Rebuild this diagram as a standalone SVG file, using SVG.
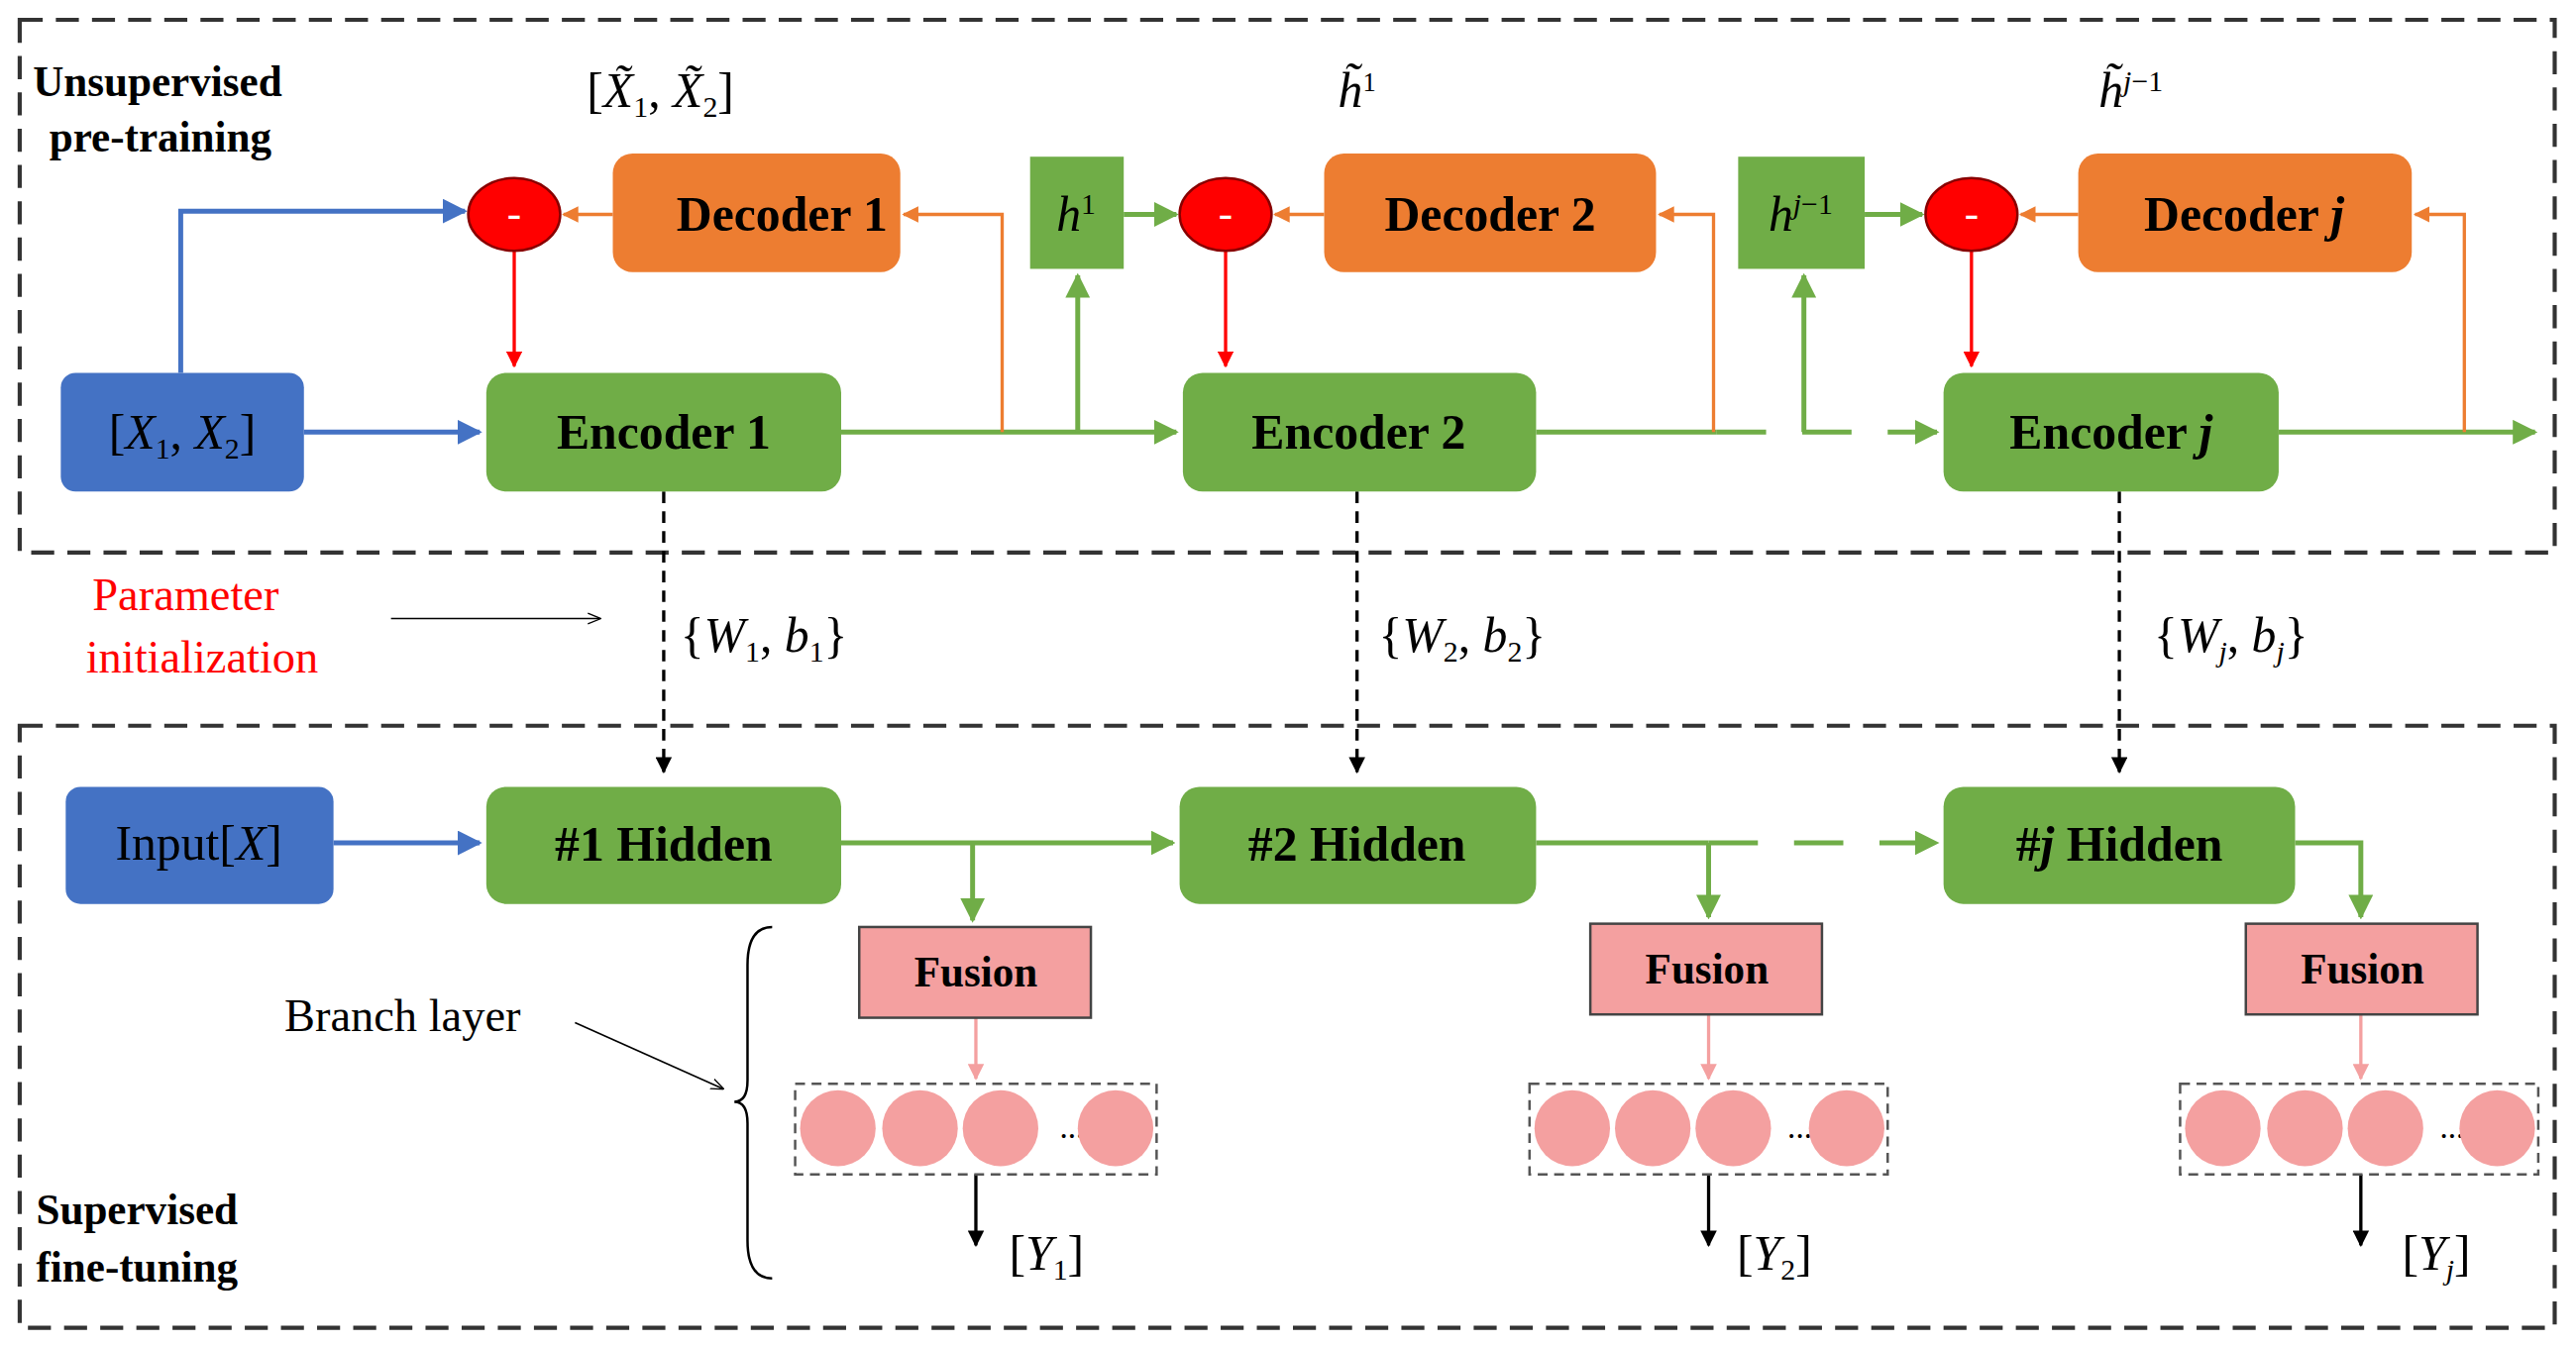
<svg xmlns="http://www.w3.org/2000/svg" width="2600" height="1359" viewBox="0 0 2600 1359">
<defs>
<marker id="ab" viewBox="0 0 10 10" refX="9" refY="5" markerWidth="5" markerHeight="5" orient="auto"><path d="M0,0L10,5L0,10z" fill="#4472c4"/></marker>
<marker id="ag" viewBox="0 0 10 10" refX="9" refY="5" markerWidth="5" markerHeight="5" orient="auto"><path d="M0,0L10,5L0,10z" fill="#70ad47"/></marker>
<marker id="ao" viewBox="0 0 10 10" refX="9" refY="5" markerWidth="5" markerHeight="5" orient="auto"><path d="M0,0L10,5L0,10z" fill="#ed7d31"/></marker>
<marker id="ar" viewBox="0 0 10 10" refX="9" refY="5" markerWidth="5" markerHeight="5" orient="auto"><path d="M0,0L10,5L0,10z" fill="#ff0000"/></marker>
<marker id="ap" viewBox="0 0 10 10" refX="9" refY="5" markerWidth="5" markerHeight="5" orient="auto"><path d="M0,0L10,5L0,10z" fill="#f4a0a0"/></marker>
<marker id="ak" viewBox="0 0 10 10" refX="9" refY="5" markerWidth="5" markerHeight="5" orient="auto"><path d="M0,0L10,5L0,10z" fill="#000"/></marker>
<marker id="at" viewBox="0 0 10 10" refX="9" refY="5" markerWidth="8" markerHeight="8" orient="auto"><path d="M0,1L10,5L0,9" fill="none" stroke="#000" stroke-width="1"/></marker>
</defs>
<style>
text{font-family:"Liberation Serif",serif;}
.t{font-size:30px;font-weight:bold;fill:#000;text-anchor:middle;}
.m{font-size:30px;font-style:italic;text-anchor:middle;}
.blue{fill:#4472c4;}
.grn{fill:#70ad47;}
.org{fill:#ed7d31;}
.fus{fill:#f4a0a0;stroke:#444;stroke-width:1.5;}
.dot{fill:#f4a0a0;}
.frame{fill:none;stroke:#333;stroke-width:2.5;stroke-dasharray:14,8;}
.db{fill:none;stroke:#555;stroke-width:1.5;stroke-dasharray:6,4;}
.lb{stroke:#4472c4;stroke-width:3;fill:none;}
.lg{stroke:#70ad47;stroke-width:3;fill:none;}
.lo{stroke:#ed7d31;stroke-width:2;fill:none;}
.lr{stroke:#ff0000;stroke-width:2;fill:none;}
.lp{stroke:#f4a0a0;stroke-width:2;fill:none;}
.lk{stroke:#000;stroke-width:2;fill:none;}
</style>
<rect width="2600" height="1359" fill="#fff"/>
<g transform="scale(1.6582,1.6654)">
<rect class="frame" x="12" y="12" width="1543" height="323"/>
<rect class="frame" x="12" y="440" width="1543" height="365"/>
<g id="connectors">
<path class="lb" d="M110,226V128H283" marker-end="url(#ab)"/>
<path class="lb" d="M185,262H292" marker-end="url(#ab)"/>
<path class="lo" d="M373,130H343" marker-end="url(#ao)"/>
<path class="lr" d="M313,152V222" marker-end="url(#ar)"/>
<path class="lg" d="M512,262H716" marker-end="url(#ag)"/>
<path class="lo" d="M610,262V130H550" marker-end="url(#ao)"/>
<path class="lg" d="M656,262V167" marker-end="url(#ag)" stroke-width="2"/>
<path class="lg" d="M684,130H716" marker-end="url(#ag)" stroke-width="2"/>
<path class="lo" d="M806,130H776" marker-end="url(#ao)"/>
<path class="lr" d="M746,152V222" marker-end="url(#ar)"/>
<path class="lg" d="M935,262H1045"/>
<path class="lg" d="M1045,262H1179" stroke-dasharray="30,22" marker-end="url(#ag)"/>
<path class="lo" d="M1043,262V130H1010" marker-end="url(#ao)"/>
<path class="lg" d="M1098,262V167" marker-end="url(#ag)" stroke-width="2"/>
<path class="lg" d="M1135,130H1170" marker-end="url(#ag)" stroke-width="2"/>
<path class="lo" d="M1265,130H1230" marker-end="url(#ao)"/>
<path class="lr" d="M1200,152V222" marker-end="url(#ar)"/>
<path class="lg" d="M1387,262H1543" marker-end="url(#ag)"/>
<path class="lo" d="M1500,262V130H1470" marker-end="url(#ao)"/>
<path class="lk" d="M404,298V468" stroke-dasharray="7,5" marker-end="url(#ak)"/>
<path class="lk" d="M826,298V468" stroke-dasharray="7,5" marker-end="url(#ak)"/>
<path class="lk" d="M1290,298V468" stroke-dasharray="7,5" marker-end="url(#ak)"/>
<path d="M238,375H365" stroke="#000" stroke-width="1" marker-end="url(#at)"/>
<path class="lb" d="M203,511H292" marker-end="url(#ab)"/>
<path class="lg" d="M512,511H714" marker-end="url(#ag)"/>
<path class="lg" d="M935,511H1040"/>
<path class="lg" d="M1040,511H1179" stroke-dasharray="30,22" marker-end="url(#ag)"/>
<path class="lg" d="M592,511V558" marker-end="url(#ag)" stroke-width="2"/>
<path class="lg" d="M1040,511V556" marker-end="url(#ag)" stroke-width="2"/>
<path class="lg" d="M1397,511H1437V556" marker-end="url(#ag)" stroke-width="2"/>
<path class="lp" d="M594,617V654" marker-end="url(#ap)"/>
<path class="lp" d="M1040,615V654" marker-end="url(#ap)"/>
<path class="lp" d="M1437,615V654" marker-end="url(#ap)"/>
<path class="lk" d="M594,712V755" marker-end="url(#ak)"/>
<path class="lk" d="M1040,712V755" marker-end="url(#ak)"/>
<path class="lk" d="M1437,712V755" marker-end="url(#ak)"/>
<path d="M350,620L440,660" stroke="#000" stroke-width="1" marker-end="url(#at)"/>
<path d="M470,562Q455,562 455,585V655Q455,668 447,668Q455,668 455,681V752Q455,775 470,775" fill="none" stroke="#000" stroke-width="1.5"/>
</g>
<text x="20" y="58" style="font-size:26px;font-weight:bold">Unsupervised</text>
<text x="30" y="92" style="font-size:26px;font-weight:bold">pre-training</text>
<text x="22" y="742" style="font-size:26px;font-weight:bold">Supervised</text>
<text x="22" y="777" style="font-size:26px;font-weight:bold">fine-tuning</text>
<text x="113" y="370" style="font-size:28px;fill:#ff0000;text-anchor:middle">Parameter</text>
<text x="123" y="408" style="font-size:28px;fill:#ff0000;text-anchor:middle">initialization</text>
<text x="245" y="625" style="font-size:28px;text-anchor:middle">Branch layer</text>
<text x="402" y="65" class="m" style="font-style:normal">[<tspan font-style="italic">X̃</tspan><tspan font-size="18" dy="6">1</tspan><tspan dy="-6">, </tspan><tspan font-style="italic">X̃</tspan><tspan font-size="18" dy="6">2</tspan><tspan dy="-6">]</tspan></text>
<text x="826" y="65" class="m">h̃<tspan font-size="16" dy="-10" font-style="normal">1</tspan></text>
<text x="1297" y="65" class="m">h̃<tspan font-size="18" dy="-10">j</tspan><tspan font-size="18" font-style="normal">−1</tspan></text>
<text x="465" y="395" class="m" style="font-style:normal">{<tspan font-style="italic">W</tspan><tspan font-size="18" dy="6">1</tspan><tspan dy="-6">, </tspan><tspan font-style="italic">b</tspan><tspan font-size="18" dy="6">1</tspan><tspan dy="-6">}</tspan></text>
<text x="890" y="395" class="m" style="font-style:normal">{<tspan font-style="italic">W</tspan><tspan font-size="18" dy="6">2</tspan><tspan dy="-6">, </tspan><tspan font-style="italic">b</tspan><tspan font-size="18" dy="6">2</tspan><tspan dy="-6">}</tspan></text>
<text x="1358" y="395" class="m" style="font-style:normal">{<tspan font-style="italic">W</tspan><tspan font-size="18" dy="6" font-style="italic">j</tspan><tspan dy="-6">, </tspan><tspan font-style="italic">b</tspan><tspan font-size="18" dy="6" font-style="italic">j</tspan><tspan dy="-6">}</tspan></text>
<text x="637" y="770" class="m" style="font-style:normal">[<tspan font-style="italic">Y</tspan><tspan font-size="18" dy="6">1</tspan><tspan dy="-6">]</tspan></text>
<text x="1080" y="770" class="m" style="font-style:normal">[<tspan font-style="italic">Y</tspan><tspan font-size="18" dy="6">2</tspan><tspan dy="-6">]</tspan></text>
<text x="1483" y="770" class="m" style="font-style:normal">[<tspan font-style="italic">Y</tspan><tspan font-size="18" dy="6" font-style="italic">j</tspan><tspan dy="-6">]</tspan></text>
<g id="x12"><rect class="blue" x="37" y="226" width="148" height="72" rx="9"/><text x="111" y="272" class="m" style="font-style:normal">[<tspan font-style="italic">X</tspan><tspan font-size="18" dy="6">1</tspan><tspan dy="-6">, </tspan><tspan font-style="italic">X</tspan><tspan font-size="18" dy="6">2</tspan><tspan dy="-6">]</tspan></text></g>
<g id="enc1"><rect class="grn" x="296" y="226" width="216" height="72" rx="12"/><text class="t" x="404" y="272">Encoder 1</text></g>
<g id="enc2"><rect class="grn" x="720" y="226" width="215" height="72" rx="12"/><text class="t" x="827" y="272">Encoder 2</text></g>
<g id="encj"><rect class="grn" x="1183" y="226" width="204" height="72" rx="12"/><text class="t" x="1285" y="272">Encoder <tspan font-style="italic">j</tspan></text></g>
<g id="dec1"><rect class="org" x="373" y="93" width="175" height="72" rx="12"/><text class="t" x="476" y="140">Decoder 1</text></g>
<g id="dec2"><rect class="org" x="806" y="93" width="202" height="72" rx="12"/><text class="t" x="907" y="140">Decoder 2</text></g>
<g id="decj"><rect class="org" x="1265" y="93" width="203" height="72" rx="12"/><text class="t" x="1366" y="140">Decoder <tspan font-style="italic">j</tspan></text></g>
<g id="h1"><rect class="grn" x="627" y="95" width="57" height="68"/><text class="m" x="655" y="140">h<tspan font-size="18" dy="-10" font-style="normal">1</tspan></text></g>
<g id="hj"><rect class="grn" x="1058" y="95" width="77" height="68"/><text class="m" x="1096" y="140">h<tspan font-size="18" dy="-10">j</tspan><tspan font-size="18" font-style="normal">−1</tspan></text></g>
<g id="c1"><ellipse cx="313" cy="130" rx="28" ry="22" fill="#ff0000" stroke="#800" stroke-width="1.5"/><text x="313" y="138" style="font-size:26px;fill:#fff;text-anchor:middle">-</text></g>
<g id="c2"><ellipse cx="746" cy="130" rx="28" ry="22" fill="#ff0000" stroke="#800" stroke-width="1.5"/><text x="746" y="138" style="font-size:26px;fill:#fff;text-anchor:middle">-</text></g>
<g id="c3"><ellipse cx="1200" cy="130" rx="28" ry="22" fill="#ff0000" stroke="#800" stroke-width="1.5"/><text x="1200" y="138" style="font-size:26px;fill:#fff;text-anchor:middle">-</text></g>
<g id="input"><rect class="blue" x="40" y="477" width="163" height="71" rx="9"/><text x="121" y="521" style="font-size:30px;text-anchor:middle">Input[<tspan font-style="italic">X</tspan>]</text></g>
<g id="hid1"><rect class="grn" x="296" y="477" width="216" height="71" rx="12"/><text class="t" x="404" y="522">#1 Hidden</text></g>
<g id="hid2"><rect class="grn" x="718" y="477" width="217" height="71" rx="12"/><text class="t" x="826" y="522">#2 Hidden</text></g>
<g id="hidj"><rect class="grn" x="1183" y="477" width="214" height="71" rx="12"/><text class="t" x="1290" y="522">#<tspan font-style="italic">j</tspan> Hidden</text></g>
<g id="f1"><rect class="fus" x="523" y="562" width="141" height="55"/><text class="t" x="594" y="598" style="font-size:26px">Fusion</text></g>
<g id="f2"><rect class="fus" x="968" y="560" width="141" height="55"/><text class="t" x="1039" y="596" style="font-size:26px">Fusion</text></g>
<g id="f3"><rect class="fus" x="1367" y="560" width="141" height="55"/><text class="t" x="1438" y="596" style="font-size:26px">Fusion</text></g>
<g id="b1"><rect class="db" x="484" y="657" width="220" height="55"/><circle class="dot" cx="510" cy="684" r="23"/><circle class="dot" cx="560" cy="684" r="23"/><circle class="dot" cx="609" cy="684" r="23"/><text x="645" y="690" style="font-size:20px">...</text><circle class="dot" cx="679" cy="684" r="23"/></g>
<g id="b2"><rect class="db" x="931" y="657" width="218" height="55"/><circle class="dot" cx="957" cy="684" r="23"/><circle class="dot" cx="1006" cy="684" r="23"/><circle class="dot" cx="1055" cy="684" r="23"/><text x="1088" y="690" style="font-size:20px">...</text><circle class="dot" cx="1124" cy="684" r="23"/></g>
<g id="b3"><rect class="db" x="1327" y="657" width="218" height="55"/><circle class="dot" cx="1353" cy="684" r="23"/><circle class="dot" cx="1403" cy="684" r="23"/><circle class="dot" cx="1452" cy="684" r="23"/><text x="1485" y="690" style="font-size:20px">...</text><circle class="dot" cx="1520" cy="684" r="23"/></g>
</g>
</svg>
